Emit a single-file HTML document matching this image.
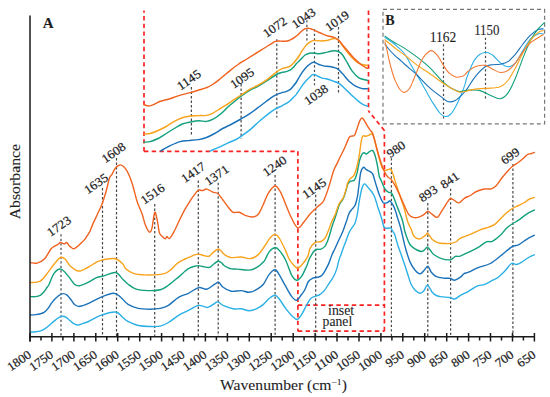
<!DOCTYPE html>
<html><head><meta charset="utf-8"><style>
html,body{margin:0;padding:0;background:#fff;width:550px;height:397px;overflow:hidden}
svg{display:block}
text{stroke:#1e1e1e;stroke-width:0.22px}
text.t2{stroke-width:0.1px}
</style></head><body>
<svg width="550" height="397" viewBox="0 0 550 397" font-family='"Liberation Serif", serif' fill="#1e1e1e">
<rect width="550" height="397" fill="#fff"/>
<g stroke="#fa2222" stroke-width="1.7" fill="none" stroke-dasharray="4.4 3.3">
<path d="M144,151.3 V10.5"/>
<path d="M144,151.3 H297.9"/>
<path d="M297.9,151.3 V331.2"/>
<path d="M297.9,331.2 H384.4"/>
<path d="M384.4,331.2 V130.5"/>
<path d="M384.4,130.5 L368.5,111"/>
<path d="M368.5,10.5 V111"/>
<path d="M297.9,305.2 H384.4"/>
</g>
<rect x="383" y="9.3" width="161.6" height="114.6" fill="none" stroke="#777" stroke-width="1.2" stroke-dasharray="4 3"/>
<line x1="61.0" y1="234.2" x2="61.0" y2="337.0" stroke="#484848" stroke-width="1.2" stroke-dasharray="2.4 2.1"/>
<line x1="102.5" y1="188.0" x2="102.5" y2="337.0" stroke="#484848" stroke-width="1.2" stroke-dasharray="2.4 2.1"/>
<line x1="116.5" y1="158.0" x2="116.5" y2="337.0" stroke="#484848" stroke-width="1.2" stroke-dasharray="2.4 2.1"/>
<line x1="154.7" y1="204.0" x2="154.7" y2="337.0" stroke="#484848" stroke-width="1.2" stroke-dasharray="2.4 2.1"/>
<line x1="198.3" y1="180.6" x2="198.3" y2="337.0" stroke="#484848" stroke-width="1.2" stroke-dasharray="2.4 2.1"/>
<line x1="218.2" y1="182.8" x2="218.2" y2="337.0" stroke="#484848" stroke-width="1.2" stroke-dasharray="2.4 2.1"/>
<line x1="275.1" y1="175.0" x2="275.1" y2="337.0" stroke="#484848" stroke-width="1.2" stroke-dasharray="2.4 2.1"/>
<line x1="315.7" y1="194.8" x2="315.7" y2="337.0" stroke="#484848" stroke-width="1.2" stroke-dasharray="2.4 2.1"/>
<line x1="391.4" y1="158.2" x2="391.4" y2="337.0" stroke="#484848" stroke-width="1.2" stroke-dasharray="2.4 2.1"/>
<line x1="427.8" y1="203.0" x2="427.8" y2="337.0" stroke="#484848" stroke-width="1.2" stroke-dasharray="2.4 2.1"/>
<line x1="450.6" y1="188.7" x2="450.6" y2="337.0" stroke="#484848" stroke-width="1.2" stroke-dasharray="2.4 2.1"/>
<line x1="512.9" y1="164.0" x2="512.9" y2="337.0" stroke="#484848" stroke-width="1.2" stroke-dasharray="2.4 2.1"/>
<line x1="191.4" y1="87.0" x2="191.4" y2="134.5" stroke="#484848" stroke-width="1.2" stroke-dasharray="2.4 2.1"/>
<line x1="241.1" y1="84.0" x2="241.1" y2="138.6" stroke="#484848" stroke-width="1.2" stroke-dasharray="2.4 2.1"/>
<line x1="276.8" y1="39.3" x2="276.8" y2="117.5" stroke="#484848" stroke-width="1.2" stroke-dasharray="2.4 2.1"/>
<line x1="306.9" y1="20.2" x2="306.9" y2="41.3" stroke="#484848" stroke-width="1.2" stroke-dasharray="2.4 2.1"/>
<line x1="314.5" y1="29.2" x2="314.5" y2="85.3" stroke="#484848" stroke-width="1.2" stroke-dasharray="2.4 2.1"/>
<line x1="338.5" y1="27.0" x2="338.5" y2="94.3" stroke="#484848" stroke-width="1.2" stroke-dasharray="2.4 2.1"/>
<line x1="443.5" y1="44.2" x2="443.5" y2="119.6" stroke="#484848" stroke-width="1.2" stroke-dasharray="2.4 2.1"/>
<line x1="485.5" y1="37.7" x2="485.5" y2="100.0" stroke="#484848" stroke-width="1.2" stroke-dasharray="2.4 2.1"/>
<path d="M30.5,332.2 C31.4,332.1 33.9,332.0 35.6,331.8 C37.3,331.6 39.1,331.3 40.6,330.9 C42.1,330.4 42.9,330.0 44.4,329.1 C45.9,328.2 47.7,326.7 49.4,325.3 C51.1,323.9 52.9,322.1 54.4,320.9 C55.9,319.7 56.9,318.8 58.2,318.0 C59.5,317.2 60.7,316.3 62.0,316.2 C63.3,316.1 64.5,316.4 65.8,317.1 C67.0,317.8 68.2,319.1 69.5,320.2 C70.8,321.2 72.0,322.6 73.3,323.4 C74.6,324.2 76.0,324.8 77.1,325.0 C78.1,325.2 78.8,324.9 79.6,324.7 C80.4,324.5 80.5,324.3 82.0,323.8 C83.5,323.3 85.4,322.9 88.5,321.5 C91.6,320.1 96.1,317.0 100.6,315.4 C105.1,313.8 112.0,311.6 115.7,312.0 C119.4,312.4 120.7,315.9 122.8,317.5 C124.9,319.1 125.5,320.2 128.1,321.5 C130.7,322.8 134.4,324.7 138.1,325.5 C141.8,326.3 146.5,326.4 150.2,326.5 C153.9,326.6 157.3,326.8 160.3,326.1 C163.3,325.4 165.4,324.3 168.4,322.5 C171.4,320.7 175.2,317.4 178.5,315.4 C181.8,313.4 185.2,312.1 188.5,310.4 C191.8,308.7 195.4,305.9 198.6,305.4 C201.8,304.9 205.0,307.8 207.7,307.4 C210.4,307.0 213.1,304.2 214.8,303.3 C216.5,302.4 216.6,301.5 218.0,301.9 C219.4,302.2 220.6,304.2 223.1,305.4 C225.6,306.5 230.1,308.2 233.1,308.8 C236.1,309.4 238.5,308.5 241.2,308.8 C243.9,309.1 246.6,310.9 249.3,310.8 C252.0,310.7 255.0,309.5 257.3,308.4 C259.6,307.3 261.4,306.1 263.4,304.4 C265.4,302.7 267.4,299.8 269.4,298.3 C271.3,296.8 273.4,295.1 275.1,295.3 C276.8,295.5 277.8,297.1 279.5,299.3 C281.2,301.5 283.6,305.7 285.6,308.4 C287.6,311.1 289.7,313.5 291.6,315.4 C293.6,317.2 295.6,319.7 297.3,319.5 C299.0,319.3 300.1,316.8 301.7,314.4 C303.3,312.0 305.2,307.6 306.7,305.0 C308.2,302.4 309.3,299.9 310.7,298.5 C312.1,297.1 313.7,296.9 315.2,296.3 C316.7,295.7 318.2,295.6 319.7,294.6 C321.2,293.7 322.8,292.4 324.3,290.6 C325.8,288.8 327.3,286.1 328.8,283.8 C330.3,281.5 332.0,279.4 333.3,277.0 C334.6,274.6 335.8,271.9 336.7,269.1 C337.6,266.3 338.2,262.5 339.0,260.0 C339.8,257.5 340.4,256.3 341.2,254.0 C342.0,251.7 343.1,248.3 344.0,246.0 C344.9,243.7 345.4,242.4 346.3,240.0 C347.2,237.6 348.4,233.9 349.7,231.3 C351.0,228.7 353.2,226.4 354.3,224.5 C355.4,222.6 355.4,222.0 356.0,219.9 C356.6,217.8 357.2,214.8 357.7,212.0 C358.2,209.2 358.4,206.7 359.0,202.9 C359.6,199.2 360.7,192.7 361.6,189.5 C362.5,186.3 363.3,184.2 364.4,183.9 C365.5,183.6 366.6,185.7 368.2,187.6 C369.8,189.5 372.3,192.0 373.9,195.2 C375.5,198.3 376.4,202.7 377.6,206.5 C378.9,210.3 380.3,214.3 381.4,217.8 C382.5,221.3 383.1,225.6 384.2,227.3 C385.3,229.0 386.9,228.0 388.0,228.2 C389.1,228.3 389.9,227.4 390.8,228.2 C391.8,229.0 393.1,231.9 393.7,232.9 C394.3,233.9 394.0,232.3 394.7,234.4 C395.4,236.5 396.9,242.4 398.0,245.7 C399.1,249.0 399.9,250.8 401.0,254.0 C402.1,257.1 403.4,261.1 404.6,264.6 C405.8,268.1 406.9,271.7 408.0,275.0 C409.1,278.3 409.9,281.8 411.1,284.3 C412.3,286.8 413.5,288.5 415.0,290.0 C416.5,291.5 418.6,293.2 420.1,293.3 C421.6,293.4 423.0,291.7 424.2,290.3 C425.4,288.9 426.1,284.7 427.5,285.1 C428.9,285.5 430.9,290.8 432.4,292.5 C433.9,294.2 434.9,294.8 436.3,295.5 C437.7,296.2 438.2,296.2 440.6,296.6 C443.0,297.0 448.2,297.3 450.5,297.7 C452.8,298.1 452.9,299.4 454.6,299.0 C456.3,298.6 458.2,296.7 460.5,295.4 C462.8,294.1 465.8,292.8 468.5,291.3 C471.2,289.8 473.9,287.5 476.6,286.3 C479.3,285.1 482.0,285.3 484.7,284.3 C487.4,283.3 490.5,281.3 492.7,280.2 C494.9,279.1 496.1,278.9 498.0,277.5 C499.9,276.1 502.1,273.9 504.4,271.6 C506.6,269.3 509.5,264.7 511.5,263.5 C513.5,262.3 514.6,264.8 516.5,264.5 C518.4,264.2 520.6,262.7 522.6,261.5 C524.6,260.3 526.7,258.6 528.6,257.5 C530.5,256.4 533.3,255.2 534.3,254.8" stroke="#2bb0e6" stroke-width="1.4" fill="none" stroke-linejoin="round" stroke-linecap="round"/>
<path d="M30.5,315.0 C31.4,314.9 33.9,314.8 35.6,314.6 C37.3,314.4 39.1,314.1 40.6,313.7 C42.1,313.3 43.1,313.0 44.4,312.1 C45.6,311.2 46.9,309.9 48.1,308.3 C49.4,306.7 50.6,304.3 51.9,302.6 C53.2,300.9 54.4,299.4 55.7,298.2 C57.0,296.9 58.2,295.9 59.5,295.1 C60.8,294.3 62.0,293.6 63.2,293.6 C64.5,293.6 65.7,294.1 67.0,295.1 C68.3,296.1 69.5,297.9 70.8,299.5 C72.1,301.1 73.3,303.4 74.6,304.5 C75.9,305.6 77.2,306.2 78.4,306.4 C79.6,306.6 80.3,306.3 82.0,305.8 C83.7,305.3 85.4,304.7 88.5,303.3 C91.6,301.9 96.4,299.0 100.6,297.3 C104.8,295.6 110.3,293.3 113.7,293.3 C117.1,293.3 118.3,295.5 120.7,297.3 C123.1,299.1 125.2,302.5 128.1,304.4 C131.0,306.2 134.4,307.6 138.1,308.4 C141.8,309.2 146.5,309.2 150.2,309.2 C153.9,309.2 157.3,309.0 160.3,308.4 C163.3,307.8 165.4,307.2 168.4,305.4 C171.4,303.5 175.2,299.3 178.5,297.3 C181.8,295.3 185.2,294.9 188.5,293.3 C191.8,291.7 195.6,288.3 198.6,287.6 C201.6,286.9 204.0,289.8 206.7,289.2 C209.4,288.6 212.8,285.4 214.8,284.2 C216.8,283.0 217.2,281.7 218.6,282.2 C220.0,282.7 221.0,285.7 223.1,287.2 C225.2,288.7 228.1,290.6 231.1,291.2 C234.1,291.8 238.2,290.4 241.2,290.6 C244.2,290.8 246.6,292.5 249.3,292.3 C252.0,292.1 255.0,290.6 257.3,289.2 C259.6,287.8 261.4,286.7 263.4,284.2 C265.4,281.7 267.4,276.5 269.4,274.1 C271.3,271.7 273.4,269.5 275.1,269.7 C276.8,269.9 277.8,272.4 279.5,275.1 C281.2,277.9 283.6,282.7 285.6,286.2 C287.6,289.7 289.8,293.9 291.6,296.3 C293.5,298.7 295.0,300.6 296.7,300.3 C298.4,300.0 300.3,296.1 301.7,294.3 C303.1,292.5 303.9,291.6 305.0,289.5 C306.1,287.4 307.1,283.4 308.4,281.5 C309.7,279.6 311.2,278.9 312.9,278.1 C314.6,277.4 317.1,277.5 318.6,277.0 C320.1,276.5 320.9,276.4 322.0,275.3 C323.1,274.2 324.3,272.2 325.4,270.2 C326.5,268.2 327.7,265.9 328.8,263.4 C329.9,260.9 330.9,257.5 331.9,255.0 C332.9,252.5 333.9,250.8 335.0,248.5 C336.1,246.2 337.1,243.9 338.4,241.0 C339.7,238.1 341.5,234.8 342.9,231.3 C344.3,227.8 345.8,222.9 346.9,219.9 C347.9,216.9 348.3,214.9 349.2,213.1 C350.1,211.3 351.1,210.4 352.0,209.2 C352.9,208.0 354.1,207.2 354.8,205.8 C355.6,204.4 356.0,202.5 356.5,200.7 C357.0,198.9 357.3,197.4 357.7,195.0 C358.1,192.6 358.3,190.2 358.8,186.5 C359.3,182.8 359.9,175.7 360.7,172.5 C361.5,169.3 362.6,167.8 363.5,167.3 C364.4,166.8 365.2,169.0 366.3,169.7 C367.4,170.4 369.0,170.8 370.1,171.6 C371.2,172.4 371.9,172.3 372.9,174.4 C373.8,176.5 374.7,180.4 375.8,183.9 C376.9,187.4 378.2,192.1 379.5,195.2 C380.8,198.3 382.0,201.4 383.3,202.7 C384.6,203.9 386.0,203.0 387.1,202.7 C388.2,202.4 389.0,200.5 389.9,200.8 C390.8,201.1 391.8,203.1 392.7,204.6 C393.6,206.1 394.3,207.7 395.1,209.8 C395.9,211.9 396.5,214.4 397.4,217.4 C398.3,220.4 399.7,224.2 400.7,228.0 C401.7,231.8 402.6,236.3 403.5,240.0 C404.4,243.7 404.9,246.3 406.0,250.0 C407.1,253.7 408.6,258.7 410.1,262.1 C411.6,265.5 413.4,268.2 415.1,270.2 C416.8,272.1 418.7,273.8 420.2,273.8 C421.7,273.8 422.9,271.5 424.2,270.2 C425.5,268.9 426.6,265.8 427.8,266.1 C429.0,266.4 429.9,270.4 431.3,272.2 C432.7,273.9 434.1,275.6 436.3,276.6 C438.5,277.6 442.0,277.9 444.4,278.2 C446.8,278.5 448.7,278.1 450.4,278.4 C452.1,278.7 452.7,280.4 454.4,280.2 C456.1,280.0 458.9,278.3 460.5,277.2 C462.1,276.1 462.8,274.4 464.1,273.6 C465.4,272.8 466.1,273.2 468.5,272.2 C470.9,271.2 474.6,269.1 478.2,267.6 C481.8,266.2 486.6,265.4 490.3,263.5 C494.0,261.6 497.4,258.4 500.4,256.0 C503.4,253.7 506.5,251.0 508.5,249.4 C510.5,247.8 510.8,247.2 512.5,246.4 C514.2,245.6 516.1,246.0 518.5,244.8 C520.9,243.6 524.0,240.9 526.6,239.3 C529.2,237.7 533.0,236.0 534.3,235.3" stroke="#1b72b9" stroke-width="1.4" fill="none" stroke-linejoin="round" stroke-linecap="round"/>
<path d="M30.5,296.6 C31.4,296.6 33.9,296.9 35.6,296.6 C37.3,296.4 39.1,296.0 40.6,295.1 C42.1,294.2 43.4,292.6 44.4,291.3 C45.4,290.0 46.2,288.6 46.9,287.5 C47.6,286.4 47.6,287.4 48.8,285.0 C50.0,282.6 52.2,275.8 54.2,273.1 C56.2,270.5 58.5,268.6 60.9,269.1 C63.2,269.6 66.0,273.6 68.3,276.1 C70.5,278.6 72.6,282.6 74.4,284.2 C76.2,285.8 77.1,286.1 79.4,285.8 C81.8,285.5 85.7,283.6 88.5,282.2 C91.3,280.8 93.8,278.8 96.5,277.7 C99.2,276.6 101.4,276.6 104.6,275.7 C107.8,274.8 112.7,271.9 115.7,272.5 C118.7,273.1 120.7,277.2 122.8,279.2 C124.9,281.1 125.9,282.5 128.1,284.2 C130.3,285.9 132.8,288.1 136.1,289.2 C139.4,290.3 144.2,290.5 148.2,290.6 C152.2,290.7 156.9,290.7 160.3,289.8 C163.7,288.9 165.4,287.3 168.4,285.2 C171.4,283.1 175.7,279.4 178.5,277.1 C181.3,274.8 183.2,272.8 185.0,271.3 C186.8,269.8 187.9,269.0 189.4,268.2 C190.9,267.4 192.3,266.9 193.8,266.5 C195.3,266.1 196.7,265.6 198.2,265.6 C199.7,265.6 201.1,266.2 202.7,266.5 C204.3,266.8 206.6,267.4 207.9,267.5 C209.2,267.6 209.6,267.5 210.6,266.9 C211.6,266.3 212.8,264.8 214.1,263.8 C215.3,262.9 216.9,261.4 218.1,261.2 C219.3,261.0 220.2,261.8 221.2,262.5 C222.1,263.2 222.8,264.4 223.8,265.2 C224.8,266.0 226.1,266.8 227.4,267.4 C228.7,268.0 229.9,268.6 231.5,268.9 C233.1,269.2 234.2,268.9 237.2,269.1 C240.2,269.3 246.0,270.4 249.3,270.1 C252.7,269.8 255.0,268.5 257.3,267.1 C259.6,265.8 262.0,263.4 263.4,262.0 C264.8,260.6 264.4,260.7 265.4,259.0 C266.4,257.3 267.8,253.5 269.4,251.6 C271.0,249.7 273.4,247.7 275.1,247.5 C276.8,247.3 277.8,248.5 279.5,250.6 C281.2,252.7 283.6,255.9 285.6,260.0 C287.6,264.1 289.8,271.7 291.6,275.1 C293.5,278.5 295.0,280.0 296.7,280.2 C298.4,280.4 300.0,278.5 301.7,276.1 C303.4,273.7 305.3,269.0 306.7,266.0 C308.1,263.0 308.4,260.6 309.8,258.0 C311.2,255.3 313.1,251.6 315.0,250.1 C316.9,248.6 319.3,249.8 321.0,249.1 C322.7,248.4 324.0,247.4 325.1,246.1 C326.2,244.8 326.9,242.8 327.6,241.0 C328.4,239.2 328.8,237.5 329.6,235.0 C330.4,232.5 331.2,229.1 332.2,226.0 C333.2,222.9 334.3,220.0 335.5,216.5 C336.7,213.0 338.0,207.9 339.3,205.0 C340.6,202.1 342.1,201.1 343.2,198.8 C344.3,196.5 345.2,193.4 345.9,191.0 C346.6,188.6 346.9,186.1 347.6,184.5 C348.3,182.9 349.2,182.0 350.3,181.3 C351.4,180.6 353.2,181.3 354.3,180.2 C355.4,179.1 356.0,176.2 356.6,174.5 C357.2,172.8 357.2,172.4 357.7,170.0 C358.2,167.6 358.9,162.9 359.6,160.3 C360.3,157.7 361.1,155.6 361.9,154.3 C362.7,153.1 363.4,152.9 364.2,152.8 C364.9,152.8 365.5,154.2 366.4,154.0 C367.3,153.8 368.5,152.2 369.5,151.6 C370.5,151.0 371.6,150.1 372.5,150.5 C373.4,150.9 373.9,152.2 374.7,154.3 C375.4,156.5 376.4,160.5 377.0,163.4 C377.6,166.3 378.1,169.7 378.5,172.0 C378.9,174.3 379.0,175.5 379.5,177.0 C380.0,178.5 380.4,178.9 381.4,181.0 C382.3,183.1 383.9,187.6 385.2,189.5 C386.5,191.4 387.9,191.8 389.0,192.4 C390.1,193.0 390.8,191.9 391.8,193.3 C392.8,194.7 394.2,198.8 395.0,200.8 C395.8,202.8 395.8,203.3 396.6,205.3 C397.4,207.3 398.6,210.2 399.6,212.8 C400.6,215.4 401.7,217.8 402.6,221.0 C403.5,224.2 404.1,228.8 405.0,232.0 C405.9,235.2 407.0,237.9 407.8,240.0 C408.6,242.1 409.2,243.3 410.0,244.5 C410.8,245.7 411.6,246.5 412.8,247.4 C414.0,248.3 415.5,249.3 417.0,250.0 C418.5,250.7 420.5,251.6 421.8,251.5 C423.1,251.4 423.9,250.3 424.8,249.5 C425.8,248.7 426.6,246.7 427.5,246.9 C428.4,247.1 429.4,249.2 430.5,250.5 C431.6,251.8 432.1,253.4 434.1,254.8 C436.1,256.2 439.6,258.1 442.3,258.9 C445.0,259.7 448.3,260.1 450.5,259.7 C452.7,259.3 453.8,257.0 455.4,256.4 C457.0,255.8 458.0,256.9 460.1,256.2 C462.2,255.5 465.1,253.9 468.1,252.4 C471.1,250.9 475.2,249.2 478.2,247.4 C481.2,245.7 483.9,242.9 486.3,241.9 C488.7,240.9 490.0,242.4 492.3,241.3 C494.6,240.2 498.0,237.5 500.4,235.3 C502.8,233.1 504.5,230.1 506.5,228.2 C508.5,226.3 510.5,225.1 512.5,223.8 C514.5,222.5 516.1,221.8 518.5,220.2 C520.9,218.6 524.0,215.8 526.6,214.1 C529.2,212.4 533.0,210.8 534.3,210.1" stroke="#13a07c" stroke-width="1.4" fill="none" stroke-linejoin="round" stroke-linecap="round"/>
<path d="M30.4,282.6 C32.0,282.4 37.1,282.9 40.1,281.2 C43.1,279.4 45.9,275.0 48.2,272.1 C50.6,269.2 52.2,266.4 54.2,264.0 C56.2,261.6 58.7,258.3 60.5,257.5 C62.3,256.7 63.4,257.6 65.0,259.0 C66.6,260.4 68.0,264.0 70.3,266.0 C72.6,268.0 75.6,270.8 78.6,271.0 C81.6,271.2 85.4,268.5 88.5,267.0 C91.6,265.5 94.3,263.1 97.0,261.8 C99.7,260.6 101.4,260.0 104.4,259.5 C107.5,259.0 112.3,258.0 115.3,258.7 C118.3,259.4 120.7,261.9 122.5,263.6 C124.3,265.3 124.1,267.3 126.0,269.0 C127.9,270.7 131.1,272.7 134.1,273.7 C137.1,274.7 140.8,274.7 144.2,274.9 C147.6,275.1 150.9,275.1 154.3,274.9 C157.7,274.7 161.7,274.5 164.4,273.7 C167.1,272.9 168.4,271.7 170.4,270.1 C172.4,268.5 174.8,265.6 176.5,264.1 C178.2,262.6 179.1,262.1 180.5,261.2 C181.9,260.3 183.5,259.7 185.0,259.0 C186.5,258.3 187.9,257.8 189.4,257.2 C190.9,256.6 192.3,255.7 193.8,255.2 C195.3,254.7 196.7,254.1 198.2,254.1 C199.7,254.1 201.2,254.8 202.7,255.2 C204.2,255.6 205.9,256.2 207.1,256.3 C208.3,256.4 208.7,256.6 209.7,255.9 C210.7,255.2 211.8,253.5 213.2,252.4 C214.6,251.3 216.8,249.5 218.1,249.3 C219.4,249.1 220.2,250.2 221.2,251.0 C222.1,251.8 222.8,253.2 223.8,254.1 C224.8,255.0 226.1,255.7 227.4,256.3 C228.7,256.9 229.2,257.5 231.5,257.6 C233.8,257.7 238.1,256.8 241.2,257.0 C244.3,257.2 247.5,259.0 250.3,258.6 C253.2,258.2 256.0,256.6 258.3,254.6 C260.6,252.6 262.4,249.3 264.4,246.5 C266.4,243.7 268.6,239.5 270.4,237.5 C272.2,235.5 273.6,234.2 275.1,234.4 C276.6,234.6 277.8,235.8 279.5,238.5 C281.2,241.2 283.9,247.0 285.6,250.6 C287.3,254.2 288.1,257.4 289.6,260.0 C291.1,262.6 293.2,264.6 294.6,266.0 C296.0,267.4 296.5,268.3 297.7,268.1 C298.9,267.9 300.0,266.9 301.7,265.0 C303.4,263.1 306.3,259.4 307.7,256.6 C309.1,253.9 308.8,250.8 310.0,248.5 C311.2,246.2 313.2,243.8 315.0,242.6 C316.8,241.4 319.3,242.3 321.0,241.5 C322.7,240.7 324.2,239.1 325.1,238.0 C326.0,236.9 326.0,236.5 326.6,235.0 C327.2,233.5 328.1,231.3 329.0,229.0 C329.9,226.7 331.0,223.3 332.0,221.0 C333.0,218.7 333.8,217.8 335.0,215.0 C336.2,212.2 337.7,206.8 339.0,204.0 C340.3,201.2 341.9,200.6 343.0,198.3 C344.1,196.0 345.1,192.9 345.8,190.4 C346.6,187.9 346.8,185.5 347.5,183.6 C348.2,181.7 348.8,180.4 349.8,179.1 C350.8,177.8 352.7,177.2 353.7,175.7 C354.7,174.2 355.1,173.1 356.0,170.0 C356.9,166.9 358.0,161.9 358.9,157.3 C359.8,152.7 360.5,145.7 361.1,142.2 C361.7,138.7 361.9,137.2 362.7,136.2 C363.5,135.2 364.7,136.3 365.7,136.2 C366.7,136.1 367.7,135.8 368.7,135.4 C369.7,135.0 370.8,133.5 371.7,133.9 C372.6,134.3 373.2,135.6 374.0,137.7 C374.8,139.8 375.4,143.2 376.3,146.7 C377.2,150.2 378.3,155.3 379.3,158.8 C380.3,162.3 381.4,165.9 382.3,167.9 C383.2,169.9 383.9,170.3 384.8,170.6 C385.7,170.9 386.5,170.0 387.5,169.8 C388.5,169.6 389.7,168.6 390.6,169.2 C391.5,169.8 392.1,171.6 392.8,173.6 C393.6,175.6 394.2,178.3 395.1,181.1 C396.0,183.9 397.1,187.2 398.1,190.2 C399.1,193.2 400.1,196.2 401.1,199.2 C402.1,202.2 403.3,205.2 404.2,208.3 C405.1,211.4 405.8,214.9 406.5,217.5 C407.2,220.1 407.8,222.1 408.6,224.0 C409.4,225.9 410.3,227.1 411.2,229.2 C412.1,231.3 412.6,234.9 414.1,236.5 C415.6,238.1 418.4,239.1 420.2,238.9 C422.0,238.7 423.9,236.3 425.2,235.4 C426.5,234.5 426.6,232.7 427.8,233.4 C429.0,234.1 430.6,237.9 432.3,239.5 C434.1,241.1 436.3,242.2 438.3,242.9 C440.3,243.6 442.4,243.4 444.4,243.5 C446.4,243.6 448.4,243.8 450.4,243.5 C452.4,243.2 454.9,242.4 456.5,241.5 C458.1,240.6 457.8,239.5 460.1,238.3 C462.4,237.1 466.9,235.7 470.2,234.3 C473.5,232.9 477.1,231.0 480.2,229.8 C483.3,228.6 486.3,228.1 488.7,227.2 C491.1,226.3 492.9,225.8 494.8,224.4 C496.8,223.0 498.4,220.9 500.4,219.0 C502.3,217.1 504.5,214.6 506.5,212.8 C508.5,211.1 510.5,209.7 512.5,208.5 C514.5,207.3 516.5,206.5 518.5,205.5 C520.5,204.5 522.9,203.5 524.6,202.5 C526.3,201.5 527.0,200.3 528.6,199.5 C530.2,198.7 533.3,197.8 534.3,197.5" stroke="#f8a31b" stroke-width="1.4" fill="none" stroke-linejoin="round" stroke-linecap="round"/>
<path d="M30.7,262.7 C31.8,262.8 34.8,263.7 37.1,263.1 C39.4,262.5 42.1,261.5 44.4,259.1 C46.7,256.7 49.3,251.0 51.1,248.8 C52.9,246.6 53.9,246.6 55.1,245.8 C56.3,245.1 57.2,244.9 58.1,244.3 C59.0,243.8 59.4,242.7 60.2,242.5 C61.0,242.3 62.0,243.1 62.7,243.3 C63.4,243.5 63.8,243.9 64.5,243.8 C65.2,243.7 65.9,242.2 66.7,242.5 C67.5,242.8 68.3,244.9 69.2,245.8 C70.1,246.7 71.2,247.5 72.0,248.0 C72.8,248.5 73.2,249.0 74.3,248.6 C75.3,248.2 77.1,246.8 78.3,245.8 C79.5,244.8 80.3,243.8 81.3,242.8 C82.3,241.8 83.4,241.1 84.4,239.9 C85.4,238.7 86.5,236.9 87.4,235.4 C88.3,233.9 89.2,232.8 90.0,231.2 C90.8,229.6 91.0,228.4 92.2,225.6 C93.4,222.8 95.6,218.2 97.3,214.5 C99.0,210.8 100.8,207.4 102.3,203.4 C103.8,199.4 105.2,194.5 106.4,190.3 C107.6,186.1 108.5,180.8 109.4,178.2 C110.3,175.5 111.2,175.8 112.0,174.4 C112.8,173.1 113.4,171.3 114.1,170.1 C114.8,168.9 115.7,167.8 116.4,167.0 C117.1,166.2 117.7,165.8 118.4,165.5 C119.1,165.2 119.5,164.8 120.4,164.9 C121.3,165.1 122.5,165.4 123.6,166.4 C124.7,167.4 125.8,169.1 126.8,170.7 C127.8,172.3 128.5,173.9 129.4,176.0 C130.3,178.1 131.3,180.9 132.1,183.3 C132.9,185.8 133.5,188.1 134.2,190.7 C134.9,193.3 135.7,196.4 136.3,198.7 C137.0,200.9 137.1,201.6 138.1,204.2 C139.1,206.8 141.0,210.9 142.2,214.3 C143.4,217.7 144.0,221.5 145.2,224.4 C146.4,227.3 148.1,231.3 149.2,232.0 C150.3,232.7 151.0,231.7 151.9,228.4 C152.8,225.1 153.8,213.7 154.7,212.3 C155.6,211.0 156.5,217.0 157.3,220.3 C158.1,223.7 158.5,229.7 159.3,232.4 C160.1,235.1 161.3,235.4 162.3,236.5 C163.3,237.6 164.7,238.9 165.4,238.9 C166.2,238.9 166.1,236.6 166.8,236.5 C167.5,236.4 168.3,239.1 169.4,238.5 C170.5,237.9 171.9,235.5 173.4,232.8 C174.9,230.1 176.7,226.1 178.5,222.3 C180.3,218.5 182.5,213.9 184.5,210.2 C186.5,206.5 188.8,203.0 190.6,200.2 C192.4,197.3 194.3,194.8 195.6,193.1 C196.9,191.4 197.4,190.5 198.6,190.1 C199.8,189.7 201.3,190.7 202.7,190.5 C204.0,190.3 205.0,188.8 206.7,189.1 C208.4,189.4 210.8,191.3 212.7,192.1 C214.6,192.9 216.3,192.3 218.0,193.7 C219.7,195.0 221.2,197.8 223.1,200.2 C224.9,202.6 227.4,206.2 229.1,208.2 C230.8,210.2 231.4,211.6 233.1,212.3 C234.8,213.0 237.2,211.8 239.2,212.3 C241.2,212.8 242.8,214.5 245.2,215.3 C247.5,216.1 251.1,217.1 253.3,216.9 C255.5,216.7 256.6,216.4 258.3,214.3 C260.0,212.2 261.7,207.7 263.4,204.2 C265.1,200.7 266.4,196.1 268.4,193.1 C270.3,190.1 273.1,186.2 275.1,186.0 C277.1,185.8 278.8,189.1 280.5,192.1 C282.2,195.1 283.8,199.8 285.6,204.2 C287.5,208.6 289.6,214.4 291.6,218.3 C293.6,222.2 295.7,227.1 297.7,227.8 C299.7,228.5 301.7,224.6 303.7,222.3 C305.7,220.1 307.8,216.7 309.8,214.3 C311.9,212.0 314.0,210.1 316.0,208.2 C318.0,206.3 320.6,204.3 322.0,202.9 C323.4,201.5 323.4,201.6 324.3,199.5 C325.2,197.4 326.7,193.4 327.7,190.4 C328.7,187.4 329.5,184.7 330.5,181.3 C331.5,177.9 332.8,172.9 333.9,170.0 C335.0,167.1 336.0,165.7 337.0,163.6 C338.0,161.5 338.8,159.9 340.0,157.3 C341.2,154.8 343.0,151.6 344.5,148.3 C346.0,145.0 348.0,139.7 349.1,137.7 C350.2,135.7 350.4,136.6 351.3,136.2 C352.2,135.8 353.5,136.4 354.4,135.4 C355.3,134.4 355.7,132.5 356.6,130.1 C357.5,127.7 358.7,123.1 359.6,121.1 C360.5,119.1 361.1,118.1 361.9,118.0 C362.7,117.9 363.3,119.0 364.2,120.3 C365.1,121.6 366.2,124.0 367.2,125.6 C368.2,127.2 369.3,128.8 370.2,130.1 C371.1,131.3 371.9,131.8 372.5,133.1 C373.1,134.4 373.4,135.4 374.0,137.7 C374.6,140.0 375.4,143.4 376.3,146.7 C377.2,150.0 378.3,154.0 379.3,157.3 C380.3,160.6 381.4,164.0 382.3,166.4 C383.2,168.8 383.7,170.3 384.6,172.0 C385.5,173.7 386.4,175.3 387.5,176.6 C388.6,177.9 390.0,178.1 391.3,179.6 C392.6,181.1 393.7,183.2 395.1,185.7 C396.5,188.2 398.1,191.4 399.6,194.7 C401.1,198.0 402.7,202.0 404.2,205.3 C405.7,208.6 407.2,212.3 408.7,214.3 C410.2,216.3 411.6,216.9 413.2,217.4 C414.8,217.9 416.3,217.8 418.1,217.3 C419.9,216.8 422.6,215.3 424.2,214.3 C425.8,213.3 426.4,211.3 427.8,211.3 C429.2,211.3 430.7,213.3 432.3,214.3 C433.9,215.3 435.6,218.0 437.3,217.3 C439.0,216.6 440.6,212.7 442.3,210.2 C444.0,207.7 446.0,204.1 447.4,202.2 C448.8,200.2 449.2,198.8 450.4,198.5 C451.6,198.2 452.9,199.7 454.4,200.4 C455.8,201.1 457.5,203.2 459.1,202.9 C460.8,202.6 462.4,199.5 464.3,198.3 C466.2,197.1 468.4,196.6 470.4,195.5 C472.4,194.4 474.0,192.6 476.4,191.5 C478.8,190.4 482.0,189.4 484.5,189.0 C487.0,188.6 489.3,189.4 491.3,188.8 C493.3,188.2 494.5,187.3 496.4,185.4 C498.2,183.5 500.4,179.8 502.4,177.3 C504.4,174.8 506.8,172.0 508.5,170.2 C510.2,168.3 510.8,167.5 512.5,166.2 C514.2,164.9 516.5,163.7 518.5,162.2 C520.5,160.7 523.1,158.4 524.6,157.1 C526.1,155.8 526.6,155.1 527.6,154.5 C528.6,153.9 529.5,154.0 530.6,153.7 C531.7,153.4 533.7,152.7 534.3,152.5" stroke="#f0621f" stroke-width="1.4" fill="none" stroke-linejoin="round" stroke-linecap="round"/>
<path d="M210.0,151.1 C210.4,150.9 210.8,150.8 212.6,150.0 C214.4,149.2 217.9,147.8 220.6,146.6 C223.3,145.4 226.1,143.8 228.7,142.6 C231.3,141.4 233.8,140.7 236.0,139.5 C238.2,138.3 239.7,137.2 242.1,135.6 C244.5,133.9 247.2,132.1 250.2,129.6 C253.2,127.1 256.8,123.4 260.2,120.5 C263.6,117.6 267.6,114.4 270.3,112.4 C273.0,110.4 274.4,109.5 276.4,108.4 C278.3,107.3 280.4,106.6 282.0,105.8 C283.6,105.0 284.6,104.4 286.0,103.6 C287.4,102.8 288.9,101.7 290.1,100.7 C291.3,99.7 292.0,98.8 293.0,97.8 C294.0,96.8 295.1,95.8 296.1,94.6 C297.1,93.3 298.0,91.8 299.0,90.3 C300.0,88.8 301.2,87.0 302.2,85.6 C303.2,84.2 304.2,83.0 305.2,81.8 C306.2,80.6 306.9,79.7 308.3,78.5 C309.7,77.3 311.6,74.7 313.3,74.4 C315.0,74.1 316.9,75.9 318.4,76.5 C319.8,77.1 320.7,77.7 322.0,78.1 C323.3,78.5 324.4,78.2 326.2,78.7 C328.0,79.2 330.5,80.1 332.7,80.9 C334.9,81.7 337.1,82.2 339.3,83.6 C341.5,85.0 343.6,87.4 345.8,89.4 C348.0,91.5 350.2,93.9 352.4,95.9 C354.6,97.9 357.0,100.1 358.9,101.6 C360.8,103.1 362.4,104.2 363.8,104.9 C365.2,105.7 366.9,105.9 367.5,106.1" stroke="#2bb0e6" stroke-width="1.45" fill="none" stroke-linejoin="round" stroke-linecap="round"/>
<path d="M160.9,151.1 C161.1,150.9 160.6,150.9 162.2,150.0 C163.8,149.1 167.2,147.0 170.2,145.6 C173.2,144.2 177.3,142.4 180.3,141.6 C183.3,140.8 185.4,140.9 188.4,140.6 C191.4,140.3 195.5,140.1 198.5,139.6 C201.5,139.1 203.8,138.5 206.5,137.5 C209.2,136.5 211.9,135.0 214.6,133.5 C217.3,132.0 220.1,129.9 222.7,128.5 C225.3,127.1 227.1,126.5 230.0,125.0 C232.9,123.5 236.6,121.4 240.0,119.5 C243.4,117.6 246.8,115.7 250.2,113.4 C253.6,111.2 256.8,108.5 260.2,106.0 C263.6,103.5 267.6,100.2 270.3,98.3 C273.0,96.4 274.4,95.7 276.4,94.7 C278.3,93.8 280.4,93.1 282.0,92.6 C283.6,92.1 284.6,92.1 286.0,91.6 C287.4,91.1 288.9,90.4 290.1,89.6 C291.3,88.8 292.0,87.7 293.0,86.5 C294.0,85.3 295.1,84.0 296.1,82.5 C297.1,81.0 298.0,79.2 299.0,77.5 C300.0,75.8 301.2,73.9 302.2,72.4 C303.2,70.9 304.2,69.7 305.2,68.5 C306.2,67.3 306.9,66.4 308.3,65.4 C309.7,64.4 311.6,62.5 313.3,62.3 C315.0,62.1 316.9,63.8 318.4,64.3 C319.8,64.8 321.0,65.1 322.0,65.4 C323.0,65.7 323.0,65.9 324.5,66.1 C326.0,66.3 328.9,66.3 331.1,66.8 C333.3,67.3 335.7,67.7 337.6,68.9 C339.5,70.1 340.7,71.8 342.6,73.8 C344.5,75.8 346.9,79.2 349.1,81.2 C351.3,83.2 353.4,84.9 355.6,86.1 C357.8,87.3 360.2,88.2 362.2,88.6 C364.2,89.0 366.6,88.6 367.5,88.6" stroke="#1b72b9" stroke-width="1.45" fill="none" stroke-linejoin="round" stroke-linecap="round"/>
<path d="M144.0,142.2 C145.0,142.1 147.8,142.2 150.1,141.6 C152.4,141.0 155.4,139.8 158.1,138.5 C160.8,137.2 163.5,135.2 166.2,133.5 C168.9,131.8 171.6,130.1 174.3,128.5 C177.0,126.9 179.6,125.1 182.3,124.0 C185.0,122.9 187.7,122.5 190.4,122.0 C193.1,121.5 195.8,120.9 198.5,120.8 C201.2,120.7 204.2,121.6 206.5,121.4 C208.8,121.2 210.2,120.6 212.6,119.4 C214.9,118.2 217.9,116.2 220.6,114.0 C223.3,111.8 226.1,108.6 228.7,106.3 C231.3,104.0 233.8,102.1 236.0,100.3 C238.2,98.5 239.7,97.0 242.1,95.3 C244.5,93.6 247.5,91.7 250.2,90.2 C252.9,88.7 255.5,87.7 258.2,86.2 C260.9,84.7 263.3,83.2 266.3,81.2 C269.3,79.2 273.8,76.0 276.4,74.5 C279.0,73.0 280.4,72.9 282.0,72.4 C283.6,71.9 284.6,72.0 286.0,71.6 C287.4,71.2 288.9,70.9 290.1,70.2 C291.4,69.5 292.4,68.3 293.5,67.2 C294.6,66.1 295.3,64.8 296.5,63.5 C297.7,62.2 299.2,60.9 300.6,59.5 C302.0,58.1 303.6,56.0 305.1,55.0 C306.6,54.0 307.9,53.5 309.5,53.2 C311.1,52.9 313.2,53.1 314.8,53.2 C316.4,53.3 317.6,53.8 319.2,53.7 C320.8,53.6 323.0,53.1 324.5,52.8 C326.0,52.5 326.4,52.2 328.0,51.9 C329.6,51.5 332.5,50.7 334.4,50.7 C336.3,50.7 337.9,51.3 339.3,52.0 C340.7,52.7 341.2,53.1 342.6,55.0 C344.0,56.9 345.9,60.5 347.5,63.2 C349.1,65.9 350.5,69.0 352.4,71.4 C354.3,73.9 356.4,76.4 358.9,77.9 C361.4,79.4 366.1,80.0 367.5,80.4" stroke="#13a07c" stroke-width="1.45" fill="none" stroke-linejoin="round" stroke-linecap="round"/>
<path d="M144.0,134.1 C145.0,134.0 147.8,134.1 150.1,133.5 C152.4,132.9 155.4,131.7 158.1,130.5 C160.8,129.3 163.5,128.0 166.2,126.5 C168.9,125.0 171.6,122.9 174.3,121.4 C177.0,120.0 179.6,118.7 182.3,117.8 C185.0,116.9 187.7,116.4 190.4,116.0 C193.1,115.6 195.8,115.7 198.5,115.6 C201.2,115.5 204.2,115.8 206.5,115.4 C208.8,115.0 210.2,114.5 212.6,113.3 C214.9,112.1 217.9,110.0 220.6,108.3 C223.3,106.6 226.1,105.0 228.7,103.3 C231.3,101.6 233.8,99.8 236.0,98.3 C238.2,96.8 239.7,95.8 242.1,94.3 C244.5,92.8 247.5,90.7 250.2,89.2 C252.9,87.7 255.5,86.7 258.2,85.2 C260.9,83.7 263.3,82.4 266.3,80.2 C269.3,78.0 273.8,73.9 276.4,72.0 C279.0,70.1 280.4,69.3 282.0,68.6 C283.6,67.9 284.6,68.0 286.0,67.6 C287.4,67.2 288.9,67.0 290.1,66.2 C291.4,65.4 292.4,64.1 293.5,63.0 C294.6,61.9 295.6,60.7 296.5,59.5 C297.4,58.3 298.0,57.5 299.0,56.0 C300.0,54.5 301.1,52.2 302.4,50.3 C303.7,48.4 305.3,45.9 306.8,44.4 C308.3,42.9 309.9,42.0 311.2,41.3 C312.5,40.6 313.3,40.5 314.8,40.4 C316.3,40.3 318.5,40.8 320.1,40.9 C321.7,41.0 323.2,40.8 324.5,40.7 C325.8,40.6 326.4,40.6 328.0,40.2 C329.6,39.8 332.6,38.5 334.4,38.5 C336.1,38.5 337.1,38.9 338.5,40.1 C339.9,41.3 341.1,43.8 342.6,45.8 C344.1,47.8 345.9,50.3 347.5,52.4 C349.1,54.5 350.8,56.4 352.4,58.1 C354.0,59.8 355.7,61.4 357.3,62.5 C358.9,63.6 360.5,64.0 362.2,64.5 C363.9,65.0 366.6,65.2 367.5,65.3" stroke="#f8a31b" stroke-width="1.45" fill="none" stroke-linejoin="round" stroke-linecap="round"/>
<path d="M144.0,104.7 C144.8,104.9 147.4,106.0 149.1,105.9 C150.8,105.8 152.2,105.1 154.1,104.3 C155.9,103.5 158.2,102.0 160.2,101.3 C162.2,100.5 163.8,100.5 166.2,99.8 C168.5,99.1 171.6,98.1 174.3,97.2 C177.0,96.3 179.6,95.4 182.3,94.6 C185.0,93.8 187.7,93.3 190.4,92.6 C193.1,91.9 195.8,91.0 198.5,90.2 C201.2,89.4 204.2,88.7 206.5,87.7 C208.8,86.8 210.6,85.8 212.6,84.5 C214.6,83.2 216.6,81.7 218.6,80.1 C220.6,78.5 222.8,76.6 224.7,75.0 C226.6,73.4 227.8,72.3 230.0,70.6 C232.2,68.8 235.4,66.3 238.1,64.5 C240.8,62.6 243.4,61.2 246.1,59.5 C248.8,57.8 251.5,56.1 254.2,54.4 C256.9,52.7 259.6,51.1 262.3,49.4 C265.0,47.7 268.1,45.7 270.3,44.4 C272.5,43.1 273.7,41.9 275.4,41.4 C277.1,40.9 278.8,41.1 280.4,41.1 C282.0,41.1 283.9,41.3 285.3,41.2 C286.7,41.1 287.7,41.0 289.0,40.5 C290.3,40.0 291.8,39.1 292.9,38.5 C294.0,37.9 294.6,37.2 295.5,36.6 C296.4,36.0 297.0,35.6 298.0,34.7 C299.0,33.8 300.3,32.2 301.5,31.2 C302.7,30.2 304.0,29.2 305.1,28.7 C306.2,28.2 307.1,28.1 308.1,28.1 C309.1,28.2 310.1,28.6 311.2,29.0 C312.3,29.4 313.5,29.7 314.8,30.3 C316.1,30.9 317.7,31.8 319.2,32.5 C320.7,33.2 322.1,33.7 323.6,34.3 C325.1,34.9 326.2,35.5 328.0,36.0 C329.8,36.5 332.6,36.9 334.4,37.6 C336.1,38.3 337.1,38.9 338.5,40.1 C339.9,41.3 341.1,43.2 342.6,45.0 C344.1,46.8 345.9,48.8 347.5,50.7 C349.1,52.6 350.8,54.7 352.4,56.5 C354.0,58.3 355.7,59.9 357.3,61.4 C358.9,62.9 360.5,64.3 362.2,65.5 C363.9,66.7 366.6,68.0 367.5,68.5" stroke="#f0621f" stroke-width="1.45" fill="none" stroke-linejoin="round" stroke-linecap="round"/>
<path d="M385.0,37.4 C385.8,38.0 388.1,39.4 390.0,40.8 C391.9,42.2 394.1,43.8 396.4,45.8 C398.6,47.8 401.6,50.2 403.5,52.5 C405.4,54.8 406.8,57.5 408.0,59.6 C409.2,61.7 409.5,62.5 411.0,65.1 C412.5,67.7 414.8,71.2 417.1,75.2 C419.5,79.2 422.4,84.6 425.1,89.3 C427.8,94.0 430.7,99.4 433.2,103.4 C435.7,107.4 438.2,111.3 440.2,113.5 C442.2,115.7 443.6,116.3 445.3,116.5 C447.0,116.7 448.5,116.3 450.3,114.5 C452.1,112.7 454.5,108.8 456.3,105.4 C458.1,102.0 459.9,97.8 461.4,94.3 C462.8,90.8 464.0,87.4 465.0,84.3 C466.0,81.2 465.9,79.7 467.6,75.5 C469.3,71.3 472.2,63.0 475.1,59.1 C478.0,55.2 482.2,52.9 485.2,52.3 C488.1,51.7 490.3,53.5 492.8,55.3 C495.3,57.1 497.8,61.0 500.3,62.9 C502.8,64.8 505.4,66.7 507.9,66.7 C510.4,66.7 513.0,65.6 515.5,62.9 C518.0,60.2 520.5,54.3 523.0,50.3 C525.5,46.3 528.1,41.6 530.6,38.9 C533.1,36.2 536.0,34.7 538.1,33.9 C540.2,33.1 542.4,33.9 543.2,33.9" stroke="#2bb0e6" stroke-width="1.1" fill="none" stroke-linejoin="round" stroke-linecap="round"/>
<path d="M385.0,44.2 C385.8,45.2 388.3,48.6 390.0,50.5 C391.7,52.4 393.3,54.0 395.0,55.6 C396.7,57.2 398.4,58.5 400.1,60.0 C401.8,61.5 403.4,63.0 405.0,64.5 C406.6,66.0 408.3,67.4 410.0,68.8 C411.7,70.2 413.8,72.1 415.0,73.1 C416.2,74.1 414.7,72.6 417.1,75.0 C419.5,77.4 424.8,83.4 429.2,87.3 C433.6,91.2 440.1,96.0 443.3,98.4 C446.5,100.8 446.3,101.5 448.3,101.8 C450.3,102.1 453.1,101.5 455.3,100.4 C457.5,99.3 459.8,96.8 461.4,95.3 C463.0,93.8 464.0,92.7 465.0,91.5 C466.0,90.3 465.9,90.5 467.6,88.1 C469.3,85.6 472.2,80.4 475.1,76.8 C478.0,73.2 482.2,68.7 485.2,66.7 C488.1,64.7 490.3,65.1 492.8,64.7 C495.3,64.3 497.8,64.7 500.3,64.2 C502.8,63.7 505.4,63.3 507.9,61.6 C510.4,59.9 513.0,57.0 515.5,54.1 C518.0,51.2 520.5,47.1 523.0,44.0 C525.5,40.9 528.1,37.6 530.6,35.2 C533.1,32.8 536.0,30.7 538.1,29.6 C540.2,28.6 542.4,29.0 543.2,28.9" stroke="#1b72b9" stroke-width="1.1" fill="none" stroke-linejoin="round" stroke-linecap="round"/>
<path d="M385.0,36.2 C386.5,37.2 390.9,40.3 394.0,42.2 C397.1,44.1 399.6,45.1 403.5,47.6 C407.4,50.1 412.8,53.9 417.1,57.1 C421.4,60.4 424.8,62.9 429.2,67.1 C433.6,71.3 439.6,78.7 443.3,82.2 C447.0,85.7 448.6,86.8 451.3,88.3 C454.0,89.8 457.1,91.1 459.4,91.5 C461.7,91.9 463.2,90.8 465.0,90.6 C466.8,90.4 467.6,90.1 470.1,90.1 C472.6,90.1 476.9,89.8 480.2,90.6 C483.5,91.4 486.8,93.8 490.2,95.2 C493.6,96.6 497.4,99.1 500.3,98.7 C503.2,98.3 505.4,96.5 507.9,93.1 C510.4,89.6 513.0,83.9 515.5,78.0 C518.0,72.1 520.5,64.2 523.0,57.9 C525.5,51.6 528.1,45.0 530.6,40.2 C533.1,35.4 535.8,31.8 538.1,28.9 C540.4,26.0 543.4,23.7 544.4,22.6" stroke="#13a07c" stroke-width="1.1" fill="none" stroke-linejoin="round" stroke-linecap="round"/>
<path d="M385.0,39.8 C386.9,41.3 393.1,46.5 396.4,49.1 C399.7,51.7 401.6,52.6 405.0,55.3 C408.4,58.0 413.1,62.1 417.1,65.1 C421.1,68.1 424.8,70.2 429.2,73.2 C433.6,76.2 439.6,80.8 443.3,83.3 C447.0,85.8 448.6,86.8 451.3,88.3 C454.0,89.8 457.1,91.6 459.4,92.1 C461.7,92.6 463.2,91.8 465.0,91.5 C466.8,91.2 467.6,90.6 470.1,90.1 C472.6,89.6 476.9,88.9 480.2,88.6 C483.5,88.3 486.8,88.4 490.2,88.1 C493.6,87.8 497.4,88.1 500.3,86.8 C503.2,85.5 505.4,83.7 507.9,80.5 C510.4,77.3 513.0,72.5 515.5,67.9 C518.0,63.3 520.5,57.4 523.0,52.8 C525.5,48.2 528.1,43.6 530.6,40.2 C533.1,36.8 536.0,34.2 538.1,32.6 C540.2,31.0 542.4,30.9 543.2,30.6" stroke="#f8a31b" stroke-width="1.1" fill="none" stroke-linejoin="round" stroke-linecap="round"/>
<path d="M385.0,41.8 C385.2,42.8 386.0,45.8 386.5,48.0 C387.0,50.2 387.6,52.9 388.0,55.0 C388.4,57.1 388.7,58.4 389.2,60.5 C389.7,62.6 390.4,65.2 391.0,67.5 C391.6,69.8 392.3,72.4 393.0,74.5 C393.7,76.6 394.2,78.3 395.0,80.1 C395.8,81.9 396.7,83.9 397.5,85.5 C398.3,87.1 399.1,88.4 400.0,89.5 C400.9,90.6 402.1,91.8 403.1,92.2 C404.1,92.6 405.0,92.3 406.0,91.8 C407.0,91.3 408.1,90.1 409.0,89.0 C409.9,87.9 410.5,86.5 411.2,85.2 C411.9,83.9 412.4,82.5 413.0,81.0 C413.6,79.5 414.3,77.8 415.0,76.1 C415.7,74.4 416.1,73.4 417.1,71.0 C418.1,68.6 419.7,64.2 421.0,61.5 C422.3,58.9 423.4,56.9 425.1,55.1 C426.8,53.3 429.2,50.6 431.2,50.6 C433.2,50.6 435.2,52.7 437.2,55.1 C439.2,57.5 441.3,62.1 443.3,65.1 C445.3,68.1 447.1,71.2 449.3,73.2 C451.5,75.2 454.1,76.7 456.3,77.2 C458.5,77.7 460.9,76.6 462.4,76.2 C463.8,75.8 464.1,75.3 465.0,74.6 C465.9,73.8 465.9,73.0 467.6,71.7 C469.3,70.4 472.2,67.8 475.1,66.7 C478.0,65.7 482.2,65.0 485.2,65.4 C488.1,65.8 490.3,68.0 492.8,69.2 C495.3,70.4 497.8,72.3 500.3,72.5 C502.8,72.7 505.4,72.1 507.9,70.5 C510.4,68.9 513.0,66.0 515.5,62.9 C518.0,59.8 520.5,55.0 523.0,51.6 C525.5,48.2 528.1,45.0 530.6,42.7 C533.1,40.4 536.0,39.0 538.1,37.7 C540.2,36.4 542.4,35.2 543.2,34.7" stroke="#f37a35" stroke-width="1.1" fill="none" stroke-linejoin="round" stroke-linecap="round"/>
<g stroke="#1a1a1a" stroke-width="1.5" fill="none">
<path d="M30,15.5 V341.5"/>
<path d="M29.3,336.8 H535"/>
<path d="M30.0,333 V341.5 M41.0,336.8 V340.5 M51.9,333 V341.5 M62.9,336.8 V340.5 M73.9,333 V341.5 M84.8,336.8 V340.5 M95.8,333 V341.5 M106.8,336.8 V340.5 M117.7,333 V341.5 M128.7,336.8 V340.5 M139.7,333 V341.5 M150.6,336.8 V340.5 M161.6,333 V341.5 M172.5,336.8 V340.5 M183.5,333 V341.5 M194.5,336.8 V340.5 M205.4,333 V341.5 M216.4,336.8 V340.5 M227.4,333 V341.5 M238.3,336.8 V340.5 M249.3,333 V341.5 M260.3,336.8 V340.5 M271.2,333 V341.5 M282.2,336.8 V340.5 M293.2,333 V341.5 M304.1,336.8 V340.5 M315.1,333 V341.5 M326.1,336.8 V340.5 M337.0,333 V341.5 M348.0,336.8 V340.5 M359.0,333 V341.5 M369.9,336.8 V340.5 M380.9,333 V341.5 M391.9,336.8 V340.5 M402.8,333 V341.5 M413.8,336.8 V340.5 M424.7,333 V341.5 M435.7,336.8 V340.5 M446.7,333 V341.5 M457.6,336.8 V340.5 M468.6,333 V341.5 M479.6,336.8 V340.5 M490.5,333 V341.5 M501.5,336.8 V340.5 M512.5,333 V341.5 M523.4,336.8 V340.5 M534.4,333 V341.5"/>
</g>
<text x="32.2" y="356.5" font-size="12.3" text-anchor="end" textLength="26.2" lengthAdjust="spacingAndGlyphs" transform="rotate(-35 32.2 356.5)">1800</text>
<text x="54.1" y="356.5" font-size="12.3" text-anchor="end" textLength="26.2" lengthAdjust="spacingAndGlyphs" transform="rotate(-35 54.1 356.5)">1750</text>
<text x="76.1" y="356.5" font-size="12.3" text-anchor="end" textLength="26.2" lengthAdjust="spacingAndGlyphs" transform="rotate(-35 76.1 356.5)">1700</text>
<text x="98.0" y="356.5" font-size="12.3" text-anchor="end" textLength="26.2" lengthAdjust="spacingAndGlyphs" transform="rotate(-35 98.0 356.5)">1650</text>
<text x="119.9" y="356.5" font-size="12.3" text-anchor="end" textLength="26.2" lengthAdjust="spacingAndGlyphs" transform="rotate(-35 119.9 356.5)">1600</text>
<text x="141.9" y="356.5" font-size="12.3" text-anchor="end" textLength="26.2" lengthAdjust="spacingAndGlyphs" transform="rotate(-35 141.9 356.5)">1550</text>
<text x="163.8" y="356.5" font-size="12.3" text-anchor="end" textLength="26.2" lengthAdjust="spacingAndGlyphs" transform="rotate(-35 163.8 356.5)">1500</text>
<text x="185.7" y="356.5" font-size="12.3" text-anchor="end" textLength="26.2" lengthAdjust="spacingAndGlyphs" transform="rotate(-35 185.7 356.5)">1450</text>
<text x="207.6" y="356.5" font-size="12.3" text-anchor="end" textLength="26.2" lengthAdjust="spacingAndGlyphs" transform="rotate(-35 207.6 356.5)">1400</text>
<text x="229.6" y="356.5" font-size="12.3" text-anchor="end" textLength="26.2" lengthAdjust="spacingAndGlyphs" transform="rotate(-35 229.6 356.5)">1350</text>
<text x="251.5" y="356.5" font-size="12.3" text-anchor="end" textLength="26.2" lengthAdjust="spacingAndGlyphs" transform="rotate(-35 251.5 356.5)">1300</text>
<text x="273.4" y="356.5" font-size="12.3" text-anchor="end" textLength="26.2" lengthAdjust="spacingAndGlyphs" transform="rotate(-35 273.4 356.5)">1250</text>
<text x="295.4" y="356.5" font-size="12.3" text-anchor="end" textLength="26.2" lengthAdjust="spacingAndGlyphs" transform="rotate(-35 295.4 356.5)">1200</text>
<text x="317.3" y="356.5" font-size="12.3" text-anchor="end" textLength="26.2" lengthAdjust="spacingAndGlyphs" transform="rotate(-35 317.3 356.5)">1150</text>
<text x="339.2" y="356.5" font-size="12.3" text-anchor="end" textLength="26.2" lengthAdjust="spacingAndGlyphs" transform="rotate(-35 339.2 356.5)">1100</text>
<text x="361.2" y="356.5" font-size="12.3" text-anchor="end" textLength="26.2" lengthAdjust="spacingAndGlyphs" transform="rotate(-35 361.2 356.5)">1050</text>
<text x="383.1" y="356.5" font-size="12.3" text-anchor="end" textLength="26.2" lengthAdjust="spacingAndGlyphs" transform="rotate(-35 383.1 356.5)">1000</text>
<text x="405.0" y="356.5" font-size="12.3" text-anchor="end" textLength="19.6" lengthAdjust="spacingAndGlyphs" transform="rotate(-35 405.0 356.5)">950</text>
<text x="426.9" y="356.5" font-size="12.3" text-anchor="end" textLength="19.6" lengthAdjust="spacingAndGlyphs" transform="rotate(-35 426.9 356.5)">900</text>
<text x="448.9" y="356.5" font-size="12.3" text-anchor="end" textLength="19.6" lengthAdjust="spacingAndGlyphs" transform="rotate(-35 448.9 356.5)">850</text>
<text x="470.8" y="356.5" font-size="12.3" text-anchor="end" textLength="19.6" lengthAdjust="spacingAndGlyphs" transform="rotate(-35 470.8 356.5)">800</text>
<text x="492.7" y="356.5" font-size="12.3" text-anchor="end" textLength="19.6" lengthAdjust="spacingAndGlyphs" transform="rotate(-35 492.7 356.5)">750</text>
<text x="514.7" y="356.5" font-size="12.3" text-anchor="end" textLength="19.6" lengthAdjust="spacingAndGlyphs" transform="rotate(-35 514.7 356.5)">700</text>
<text x="536.6" y="356.5" font-size="12.3" text-anchor="end" textLength="19.6" lengthAdjust="spacingAndGlyphs" transform="rotate(-35 536.6 356.5)">650</text>
<text x="61.3" y="229.4" font-size="12.3" text-anchor="middle" textLength="26.2" lengthAdjust="spacingAndGlyphs" transform="rotate(-35 61.3 229.4)">1723</text>
<text x="98.5" y="186.9" font-size="12.3" text-anchor="middle" textLength="26.2" lengthAdjust="spacingAndGlyphs" transform="rotate(-35 98.5 186.9)">1635</text>
<text x="116.0" y="155.9" font-size="12.3" text-anchor="middle" textLength="26.2" lengthAdjust="spacingAndGlyphs" transform="rotate(-35 116.0 155.9)">1608</text>
<text x="154.9" y="197.2" font-size="12.3" text-anchor="middle" textLength="26.2" lengthAdjust="spacingAndGlyphs" transform="rotate(-35 154.9 197.2)">1516</text>
<text x="195.6" y="175.8" font-size="12.3" text-anchor="middle" textLength="26.2" lengthAdjust="spacingAndGlyphs" transform="rotate(-35 195.6 175.8)">1417</text>
<text x="219.1" y="178.4" font-size="12.3" text-anchor="middle" textLength="26.2" lengthAdjust="spacingAndGlyphs" transform="rotate(-35 219.1 178.4)">1371</text>
<text x="277.0" y="169.6" font-size="12.3" text-anchor="middle" textLength="26.2" lengthAdjust="spacingAndGlyphs" transform="rotate(-35 277.0 169.6)">1240</text>
<text x="316.5" y="191.8" font-size="12.3" text-anchor="middle" textLength="26.2" lengthAdjust="spacingAndGlyphs" transform="rotate(-35 316.5 191.8)">1145</text>
<text x="398.4" y="152.7" font-size="12.3" text-anchor="middle" textLength="19.6" lengthAdjust="spacingAndGlyphs" transform="rotate(-35 398.4 152.7)">980</text>
<text x="430.5" y="196.9" font-size="12.3" text-anchor="middle" textLength="19.6" lengthAdjust="spacingAndGlyphs" transform="rotate(-35 430.5 196.9)">893</text>
<text x="452.0" y="183.7" font-size="12.3" text-anchor="middle" textLength="19.6" lengthAdjust="spacingAndGlyphs" transform="rotate(-35 452.0 183.7)">841</text>
<text x="512.5" y="159.4" font-size="12.3" text-anchor="middle" textLength="19.6" lengthAdjust="spacingAndGlyphs" transform="rotate(-35 512.5 159.4)">699</text>
<text x="191.2" y="83.3" font-size="12.3" text-anchor="middle" textLength="26.2" lengthAdjust="spacingAndGlyphs" transform="rotate(-35 191.2 83.3)">1145</text>
<text x="244.4" y="81.4" font-size="12.3" text-anchor="middle" textLength="26.2" lengthAdjust="spacingAndGlyphs" transform="rotate(-35 244.4 81.4)">1095</text>
<text x="277.2" y="30.5" font-size="12.3" text-anchor="middle" textLength="26.2" lengthAdjust="spacingAndGlyphs" transform="rotate(-35 277.2 30.5)">1072</text>
<text x="305.9" y="21.4" font-size="12.3" text-anchor="middle" textLength="26.2" lengthAdjust="spacingAndGlyphs" transform="rotate(-35 305.9 21.4)">1043</text>
<text x="339.5" y="24.2" font-size="12.3" text-anchor="middle" textLength="26.2" lengthAdjust="spacingAndGlyphs" transform="rotate(-35 339.5 24.2)">1019</text>
<text x="318.5" y="98.0" font-size="12.3" text-anchor="middle" textLength="26.2" lengthAdjust="spacingAndGlyphs" transform="rotate(-35 318.5 98.0)">1038</text>
<text class="t2" x="442.9" y="41.6" font-size="13.8" text-anchor="middle" textLength="26.5" lengthAdjust="spacingAndGlyphs">1162</text>
<text class="t2" x="486.8" y="35.2" font-size="13.8" text-anchor="middle" textLength="25.3" lengthAdjust="spacingAndGlyphs">1150</text>
<text class="t2" x="341.1" y="315.2" font-size="14" text-anchor="middle" textLength="26" lengthAdjust="spacingAndGlyphs">inset</text>
<text class="t2" x="337.4" y="325.8" font-size="14" text-anchor="middle" textLength="29.6" lengthAdjust="spacingAndGlyphs">panel</text>
<text class="t2" x="42.8" y="27.9" font-size="15" font-weight="bold">A</text>
<text class="t2" x="385.2" y="25.2" font-size="14" font-weight="bold">B</text>
<text class="t2" x="283.5" y="390.3" font-size="14.5" text-anchor="middle" textLength="126.8" lengthAdjust="spacingAndGlyphs">Wavenumber (cm<tspan font-size="9" dy="-5">−1</tspan><tspan dy="5">)</tspan></text>
<text class="t2" transform="translate(20 181.6) rotate(-90)" font-size="14" text-anchor="middle" textLength="75.5" lengthAdjust="spacingAndGlyphs">Absorbance</text>
</svg>
</body></html>
